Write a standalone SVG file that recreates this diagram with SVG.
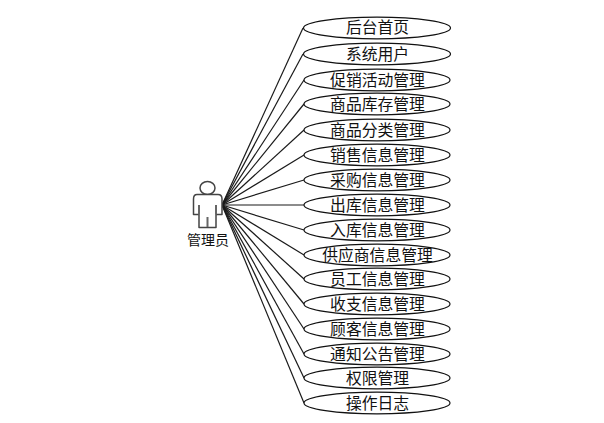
<svg xmlns="http://www.w3.org/2000/svg" width="604" height="423" viewBox="0 0 604 423">
<style>
.bg{fill:#fff}
.c line{stroke:#1a1a1a;stroke-width:1.200;fill:none}
.u{fill:#fff;stroke:#111;stroke-width:1.200}
.p{fill:#fff;stroke:#444;stroke-width:1.500;stroke-linejoin:round}
.a{stroke:#666;stroke-width:2;fill:none}
text{font-family:"Noto Sans CJK SC","Liberation Sans",sans-serif;fill:#111;text-anchor:middle}
.t{font-size:15.800px}
.l{font-size:14px}
</style>
<rect class="bg" width="604" height="423"/>
<g id="connectors" class="c">
<line x1="222" y1="205" x2="303" y2="28"/>
<line x1="222" y1="205" x2="303" y2="54"/>
<line x1="222" y1="205" x2="304" y2="80"/>
<line x1="222" y1="205" x2="304" y2="104"/>
<line x1="222" y1="205" x2="304" y2="130"/>
<line x1="222" y1="205" x2="304" y2="155"/>
<line x1="222" y1="205" x2="304" y2="180"/>
<line x1="222" y1="205" x2="304" y2="205"/>
<line x1="222" y1="205" x2="304" y2="230"/>
<line x1="222" y1="205" x2="304" y2="255"/>
<line x1="222" y1="205" x2="304" y2="279"/>
<line x1="222" y1="205" x2="304" y2="304"/>
<line x1="222" y1="205" x2="304" y2="329"/>
<line x1="222" y1="205" x2="304" y2="354"/>
<line x1="222" y1="205" x2="304" y2="378"/>
<line x1="222" y1="205" x2="304" y2="403"/>
</g>
<g id="actor">
<ellipse class="p" cx="207.500" cy="188" rx="7.500" ry="6.500"/>
<path class="p" d="M197 194.500H218Q222 194.500 222 199V214.500H216V227.500H199V214.500H193.500V199Q193.500 194.500 197 194.500Z"/>
<path class="a" d="M199 205V214.500M216 205V214.500M207.500 217V227"/>
<text class="l" x="208" y="245">管理员</text>
</g>
<g id="n1"><ellipse class="u" cx="377" cy="28" rx="73.500" ry="10.800"/><text class="t" x="377.500" y="33">后台首页</text></g>
<g id="n2"><ellipse class="u" cx="377" cy="54" rx="73.500" ry="10.800"/><text class="t" x="377.500" y="60">系统用户</text></g>
<g id="n3"><ellipse class="u" cx="377" cy="80" rx="73" ry="10.800"/><text class="t" x="377.500" y="86">促销活动管理</text></g>
<g id="n4"><ellipse class="u" cx="377" cy="104" rx="73" ry="10.800"/><text class="t" x="377.500" y="110">商品库存管理</text></g>
<g id="n5"><ellipse class="u" cx="377" cy="130" rx="73" ry="10.800"/><text class="t" x="377.500" y="136">商品分类管理</text></g>
<g id="n6"><ellipse class="u" cx="377" cy="155" rx="73" ry="10.800"/><text class="t" x="377.500" y="161">销售信息管理</text></g>
<g id="n7"><ellipse class="u" cx="377" cy="180" rx="73" ry="10.800"/><text class="t" x="377.500" y="186">采购信息管理</text></g>
<g id="n8"><ellipse class="u" cx="377" cy="205" rx="73" ry="10.800"/><text class="t" x="377.500" y="211">出库信息管理</text></g>
<g id="n9"><ellipse class="u" cx="377" cy="230" rx="73" ry="10.800"/><text class="t" x="377.500" y="236">入库信息管理</text></g>
<g id="n10"><ellipse class="u" cx="377" cy="255" rx="73" ry="10.800"/><text class="t" x="377.500" y="261">供应商信息管理</text></g>
<g id="n11"><ellipse class="u" cx="377" cy="279" rx="73" ry="10.800"/><text class="t" x="377.500" y="285">员工信息管理</text></g>
<g id="n12"><ellipse class="u" cx="377" cy="304" rx="73" ry="10.800"/><text class="t" x="377.500" y="310">收支信息管理</text></g>
<g id="n13"><ellipse class="u" cx="377" cy="329" rx="73" ry="10.800"/><text class="t" x="377.500" y="335">顾客信息管理</text></g>
<g id="n14"><ellipse class="u" cx="377" cy="354" rx="73" ry="10.800"/><text class="t" x="377.500" y="360">通知公告管理</text></g>
<g id="n15"><ellipse class="u" cx="377" cy="378" rx="73" ry="10.800"/><text class="t" x="377.500" y="384">权限管理</text></g>
<g id="n16"><ellipse class="u" cx="377" cy="403" rx="73" ry="10.800"/><text class="t" x="377.500" y="409">操作日志</text></g>
</svg>
